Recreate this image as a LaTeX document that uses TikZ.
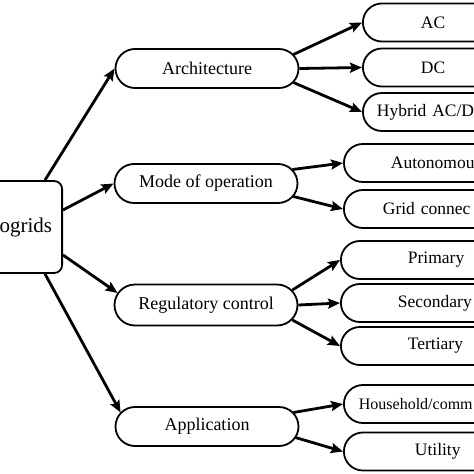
\documentclass[tikz,border=0pt]{standalone}
\usepackage{fontspec}
\setmainfont{Liberation Serif}
\usetikzlibrary{
  positioning,
  arrows.meta,
  shapes.misc
}
\tikzset{
  rootbox/.style={
    draw, line width=1.8pt, fill=white,
    rounded corners=8pt, anchor=east,
    minimum height=92pt,
    text width=100pt, align=right, inner xsep=10pt,
    font=\fontsize{21}{24}\selectfont
  },
  catbox/.style={
    draw, line width=1.8pt, fill=white,
    rounded rectangle, inner sep=0pt,
    minimum width=183pt,
    minimum height=39pt,
    font=\fontsize{18}{21}\selectfont
  },
  leafbox/.style={
    draw, line width=1.8pt, fill=white,
    rounded corners=19pt, anchor=west,
    minimum height=38pt,
    text width=150pt, align=left,
    inner xsep=#1,
    font=\fontsize{17.5}{20}\selectfont
  },
  arrow/.style={-{Stealth[length=12pt, width=10pt, inset=2pt]}, line width=2.8pt}
}

\begin{document}
\begin{tikzpicture}[x=1pt, y=-1pt]
\useasboundingbox (0,0) rectangle (474,474);
\clip (0,0) rectangle (474,474);

% root
\node[rootbox] (micro) at (63, 227) {ogrids};

% categories
\node[catbox] (arch) at (207, 68.5) {Architecture};
\node[catbox] (mode) at (206, 183.5) {Mode of operation};
\node[catbox, minimum height=41pt] (reg) at (206, 305) {Regulatory control};
\node[catbox] (app) at (207, 426.5) {Application};

% Architecture (x=362)
\node[leafbox=58pt] (ac) at (362, 22.5) {AC};
\node[leafbox=58pt] (dc) at (362, 67.5) {DC};
\node[leafbox=14pt] (hybrid) at (362, 112) {Hybrid AC/D};

% Mode of operation (x=343)
\node[leafbox=47pt] (auto) at (343, 163) {Autonomou};
\node[leafbox=39pt] (gridcon) at (343, 209) {Grid connec};

% Regulatory control (x=340)
\node[leafbox=67pt] (prim) at (340, 260) {Primary};
\node[leafbox=57pt] (sec) at (340, 303) {Secondary};
\node[leafbox=67pt] (tert) at (340, 346) {Tertiary};

% Application (x=343)
\node[leafbox=15pt, font=\fontsize{16}{19}\selectfont] (house) at (343, 404) {Household/comm};
\node[leafbox=71pt] (util) at (343, 451.5) {Utility};

% root -> categories
\draw[arrow] ([xshift=-18pt]micro.north east) -- (arch.west);
\draw[arrow] ([yshift=17pt]micro.east) -- (mode.west);
\draw[arrow] ([yshift=-28pt]micro.east) -- ([xshift=4pt, yshift=12pt]reg.west);
\draw[arrow] ([xshift=-18pt]micro.south east) -- ([xshift=6pt, yshift=14pt]app.west);

% categories -> leaves
\draw[arrow] ([xshift=-6pt, yshift=14pt]arch.east) -- (ac.west);
\draw[arrow] (arch.east) -- (dc.west);
\draw[arrow] ([xshift=-6pt, yshift=-14pt]arch.east) -- (hybrid.west);

\draw[arrow] ([xshift=-6pt, yshift=14pt]mode.east) -- (auto.west);
\draw[arrow] ([xshift=-5pt, yshift=-13pt]mode.east) -- (gridcon.west);

\draw[arrow] ([xshift=-6pt, yshift=15pt]reg.east) -- (prim.west);
\draw[arrow] (reg.east) -- (sec.west);
\draw[arrow] ([xshift=-6pt, yshift=-15pt]reg.east) -- (tert.west);

\draw[arrow] ([xshift=-6pt, yshift=14pt]app.east) -- (house.west);
\draw[arrow] ([xshift=-4pt, yshift=-11pt]app.east) -- (util.west);

\end{tikzpicture}
\end{document}
